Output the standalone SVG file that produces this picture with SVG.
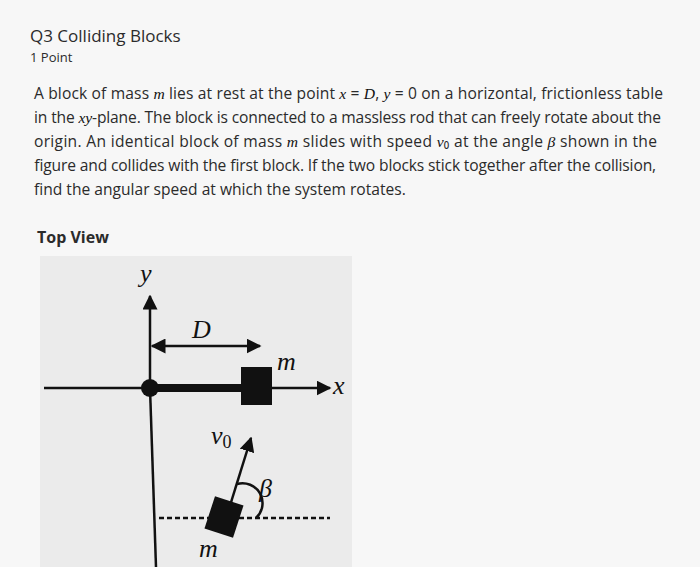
<svg xmlns="http://www.w3.org/2000/svg" width="700" height="567" viewBox="0 0 700 567">
<style>
.t{font-family:"Open Sans","Liberation Sans",sans-serif;fill:#2b2b2b}
.m{font-family:"Liberation Serif",serif;font-style:italic;fill:#111}
.ln{stroke:#111;fill:none}
</style>
<defs><marker id="ah" viewBox="0 0 10 10" refX="9" refY="5" markerWidth="6" markerHeight="6" orient="auto-start-reverse"><path d="M0,0L10,5L0,10z" fill="#111"/></marker></defs>
<rect width="700" height="567" fill="#f7f7f7"/>
<text class="t" x="30" y="42" font-size="17">Q3 Colliding Blocks</text>
<text class="t" x="30" y="62" font-size="13">1 Point</text>
<g class="t" font-size="15.6">
<text x="34" y="99" textLength="629">A block of mass <tspan class="m">m</tspan> lies at rest at the point <tspan class="m">x</tspan> = <tspan class="m">D</tspan>, <tspan class="m">y</tspan> = 0 on a horizontal, frictionless table</text>
<text x="34" y="123" textLength="627">in the <tspan class="m">xy</tspan>-plane. The block is connected to a massless rod that can freely rotate about the</text>
<text x="34" y="147" textLength="623">origin. An identical block of mass <tspan class="m">m</tspan> slides with speed <tspan class="m">v</tspan>₀ at the angle <tspan class="m">β</tspan> shown in the</text>
<text x="34" y="171" textLength="622">figure and collides with the first block. If the two blocks stick together after the collision,</text>
<text x="34" y="195">find the angular speed at which the system rotates.</text>
</g>
<text class="t" x="37" y="243" font-size="16" font-weight="bold">Top View</text>
<rect x="40" y="256" width="312" height="311" fill="#ebebeb"/>
<g id="axes">
<line class="ln" x1="150" y1="388" x2="156" y2="567" stroke-width="2.5"/>
<line class="ln" x1="150" y1="388" x2="150" y2="296" stroke-width="2.5" marker-end="url(#ah)"/>
<line class="ln" x1="44" y1="388" x2="330" y2="388" stroke-width="2.5" marker-end="url(#ah)"/>
<line class="ln" x1="150" y1="388" x2="245" y2="388" stroke-width="8"/>
<circle cx="150" cy="388" r="9" fill="#111"/>
<line class="ln" x1="152" y1="346" x2="260" y2="346" stroke-width="2.5" marker-start="url(#ah)" marker-end="url(#ah)"/>
<line class="ln" x1="159" y1="518" x2="330" y2="518" stroke-width="2.5" stroke-dasharray="5,3"/>
<line class="ln" x1="228" y1="512" x2="251" y2="438" stroke-width="2.5" marker-end="url(#ah)"/>
<path class="ln" d="M256,518 A20,20 0 0 0 237,484" stroke-width="2.5"/>
</g>
<g id="block1"><rect x="241" y="367" width="31" height="38" fill="#111"/></g>
<g id="block2"><rect x="209" y="500" width="30" height="34" fill="#111" transform="rotate(18 224 517)"/></g>
<g id="labels" font-size="26">
<text class="m" x="140" y="282">y</text>
<text class="m" x="192" y="338">D</text>
<text class="m" x="277" y="370">m</text>
<text class="m" x="333" y="394">x</text>
<text class="m" x="211" y="444">v<tspan font-size="18" font-style="normal" dy="4">0</tspan></text>
<text class="m" x="259" y="497">β</text>
<text class="m" x="199" y="557">m</text>
</g>
</svg>
